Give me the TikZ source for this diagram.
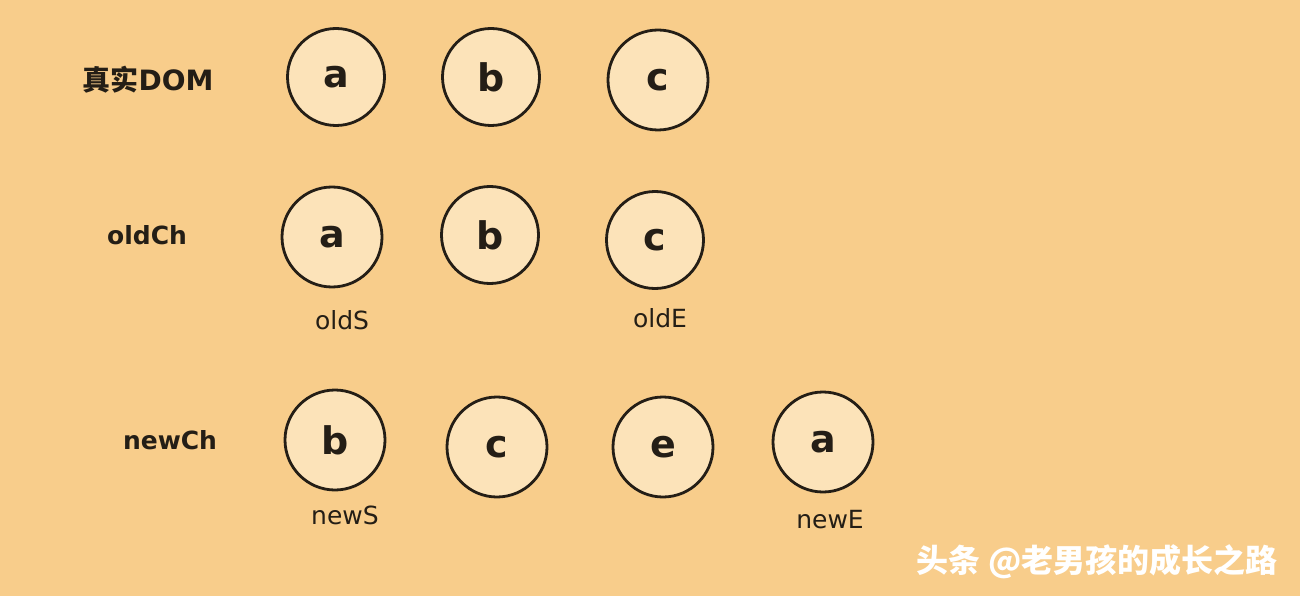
\documentclass[tikz,border=0pt]{standalone}
\usepackage{fontspec}
\setmainfont{DejaVu Sans}
\newfontfamily\cjkfont{Noto Sans CJK SC}
\definecolor{bgc}{HTML}{F8CD8B}
\definecolor{fillc}{HTML}{FCE3B9}
\definecolor{inkc}{HTML}{241E16}
\begin{document}
\begin{tikzpicture}[x=1pt,y=-1pt,
  ball/.style={circle,draw=inkc,line width=2.8pt,fill=fillc,inner sep=0pt,
    minimum size=#1,font=\fontsize{38}{40}\selectfont\bfseries,text=inkc},
  ball/.default=97pt,
  rowlab/.style={font=\fontsize{25}{28}\selectfont\bfseries,text=inkc},
  ptrlab/.style={font=\fontsize{25}{28}\selectfont,text=inkc}]
\fill[bgc] (0,0) rectangle (1300,596);
\useasboundingbox (0,0) rectangle (1300,596);
% row labels
\node[rowlab,font=\fontsize{28}{30}\selectfont\bfseries] (lreal) at (148,80) {{\cjkfont 真实}DOM};
\node[rowlab] (lold) at (147,235) {oldCh};
\node[rowlab] (lnew) at (170,440) {newCh};
% row 1
\node[ball] (ra) at (336,77) {a};
\node[ball] (rb) at (491,77) {b};
\node[ball=100pt] (rc) at (658,80) {c};
% row 2
\node[ball=100pt] (oa) at (332,237) {a};
\node[ball] (ob) at (490,235) {b};
\node[ball] (oc) at (655,240) {c};
\node[ptrlab] (olds) at (342,320) {oldS};
\node[ptrlab] (olde) at (660,318) {oldE};
% row 3
\node[ball=100pt] (nb) at (335,440) {b};
\node[ball=100pt] (nc) at (497,447) {c};
\node[ball=100pt] (ne) at (663,447) {e};
\node[ball=100pt] (na) at (823,442) {a};
\node[ptrlab] (news) at (345,515) {newS};
\node[ptrlab] (newe) at (830,520) {newE};
% watermark
\node[font=\cjkfont\fontsize{32}{34}\selectfont\bfseries,text=white] (wm) at (1097,562) {头条 @老男孩的成长之路};
\end{tikzpicture}
\end{document}
